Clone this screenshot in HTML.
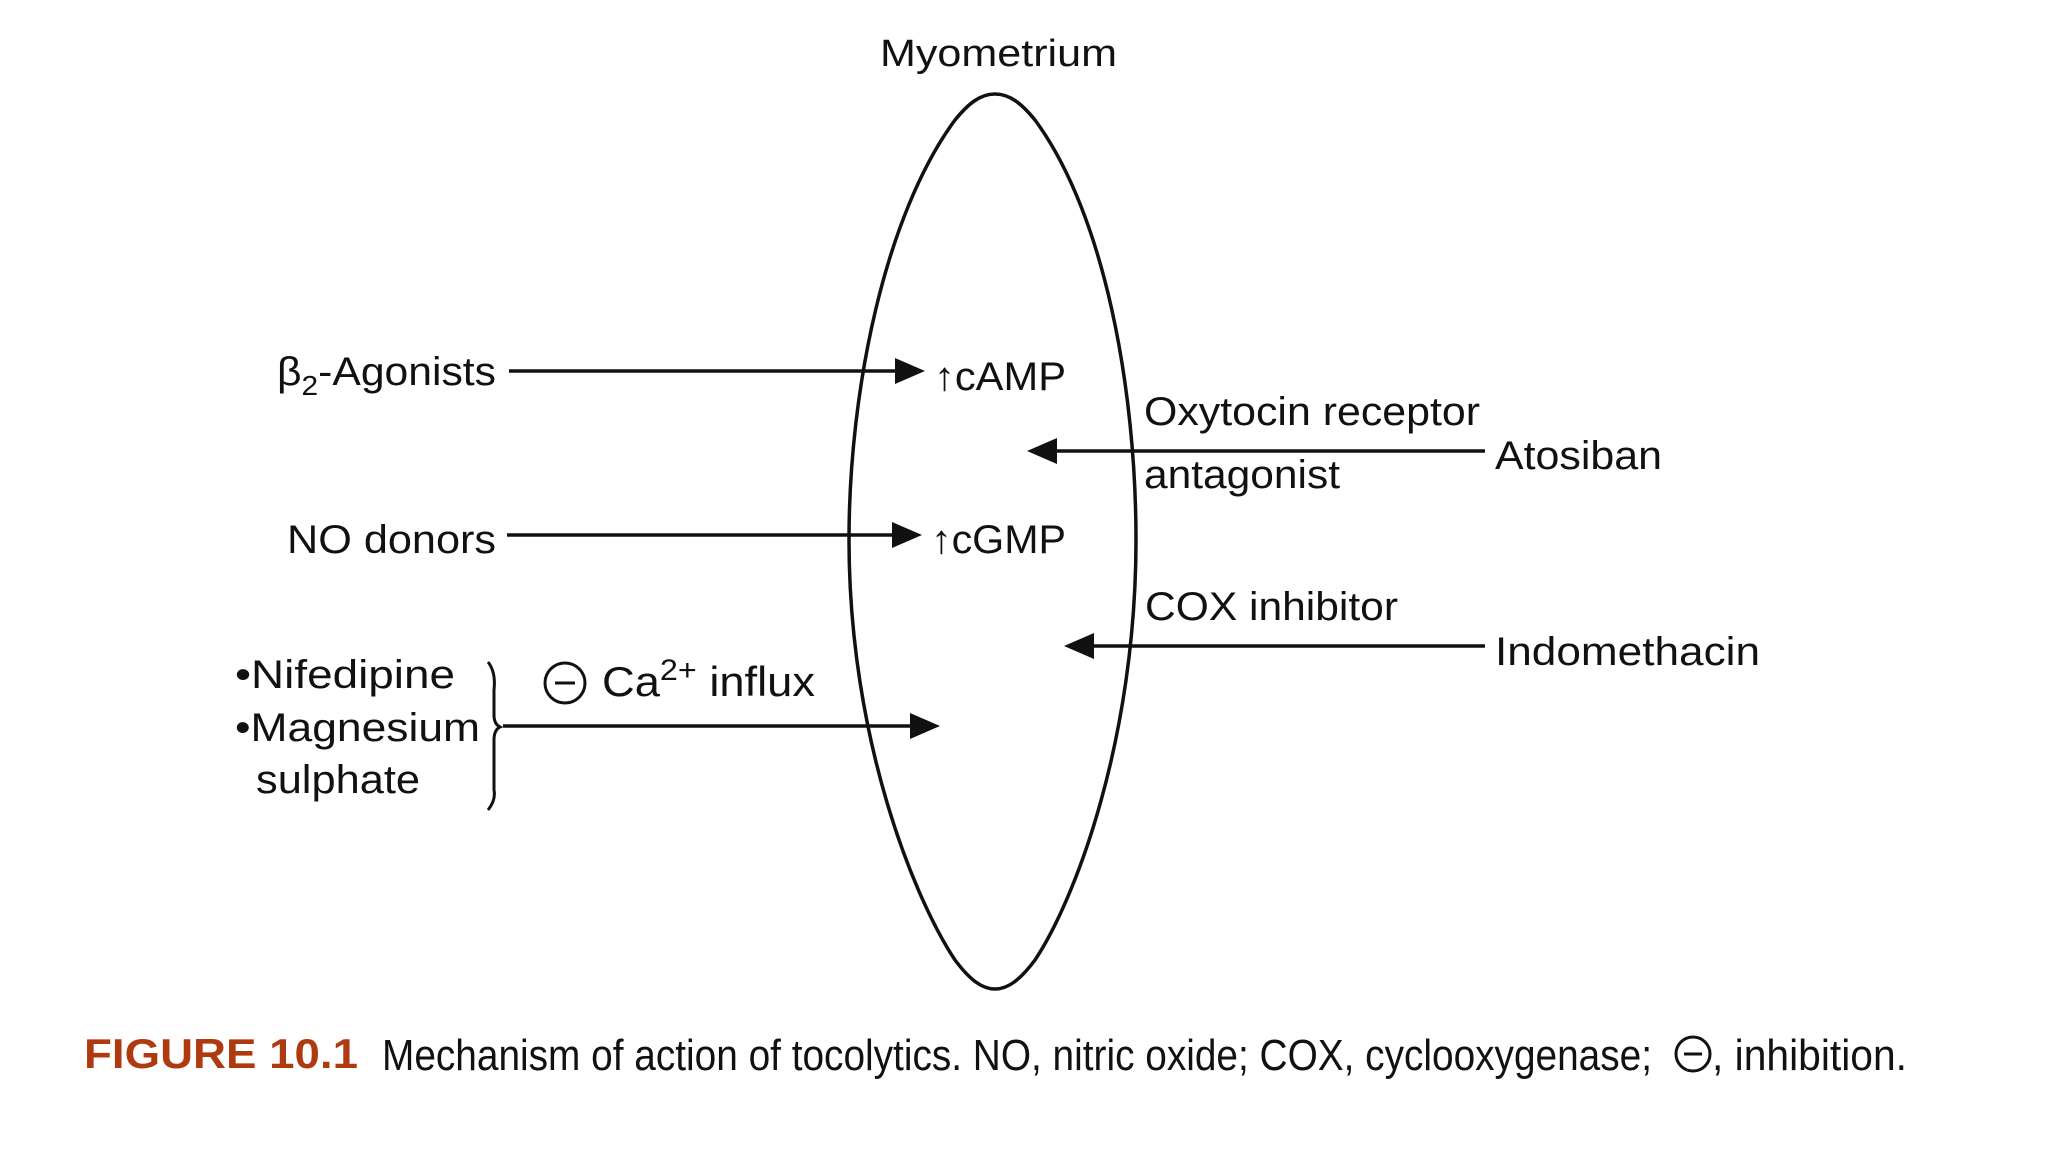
<!DOCTYPE html>
<html><head><meta charset="utf-8"><style>
html,body{margin:0;padding:0;background:#fff;}
svg{display:block;}
text{font-family:"Liberation Sans","DejaVu Sans",sans-serif;fill:#111;}
</style></head><body>
<svg width="2048" height="1152" viewBox="0 0 2048 1152" xmlns="http://www.w3.org/2000/svg">
<text x="880" y="66" font-size="38" textLength="237" lengthAdjust="spacingAndGlyphs">Myometrium</text>
<path d="M995,94 C980,94 968,104 955,120 C885,215 849,390 849,540 C849,740 915,900 955,960 C970,980 982,989 995,989 C1008,989 1020,980 1035,960 C1075,900 1136,740 1136,540 C1136,390 1105,215 1035,120 C1022,104 1010,94 995,94 Z" fill="none" stroke="#111" stroke-width="3.5"/>

<line x1="509" y1="371" x2="900" y2="371" stroke="#111" stroke-width="3.5"/>
<polygon points="925,371 895,358 895,384" fill="#111"/>
<line x1="507" y1="535" x2="897" y2="535" stroke="#111" stroke-width="3.5"/>
<polygon points="922,535 892,522 892,548" fill="#111"/>
<line x1="503" y1="726" x2="915" y2="726" stroke="#111" stroke-width="3.5"/>
<polygon points="940,726 910,713 910,739" fill="#111"/>
<line x1="1485" y1="451" x2="1052" y2="451" stroke="#111" stroke-width="3.5"/>
<polygon points="1027,451 1057,438 1057,464" fill="#111"/>
<line x1="1485" y1="646" x2="1089" y2="646" stroke="#111" stroke-width="3.5"/>
<polygon points="1064,646 1094,633 1094,659" fill="#111"/>

<text x="277" y="385" font-size="40" textLength="219" lengthAdjust="spacingAndGlyphs">β<tspan font-size="28" dy="10">2</tspan><tspan dy="-10">-Agonists</tspan></text>
<text x="934" y="390" font-size="40" textLength="132" lengthAdjust="spacingAndGlyphs">↑cAMP</text>
<text x="1144" y="425" font-size="40" textLength="336" lengthAdjust="spacingAndGlyphs">Oxytocin receptor</text>
<text x="1144" y="488" font-size="40" textLength="196" lengthAdjust="spacingAndGlyphs">antagonist</text>
<text x="1495" y="469" font-size="40" textLength="167" lengthAdjust="spacingAndGlyphs">Atosiban</text>
<text x="287" y="553" font-size="40" textLength="209" lengthAdjust="spacingAndGlyphs">NO donors</text>
<text x="931" y="553" font-size="40" textLength="135" lengthAdjust="spacingAndGlyphs">↑cGMP</text>
<text x="1145" y="620" font-size="40" textLength="253" lengthAdjust="spacingAndGlyphs">COX inhibitor</text>
<text x="1495" y="665" font-size="40" textLength="265" lengthAdjust="spacingAndGlyphs">Indomethacin</text>
<text x="235" y="688" font-size="40" textLength="220" lengthAdjust="spacingAndGlyphs">•Nifedipine</text>
<text x="235" y="741" font-size="40" textLength="245" lengthAdjust="spacingAndGlyphs">•Magnesium</text>
<text x="256" y="793" font-size="40" textLength="164" lengthAdjust="spacingAndGlyphs">sulphate</text>
<path d="M488,662 Q496,672 494,690 L494,715 Q494,724 500,727 Q494,730 494,740 L494,790 Q496,800 488,810" fill="none" stroke="#111" stroke-width="3"/>
<circle cx="565" cy="683" r="20" fill="none" stroke="#111" stroke-width="3"/>
<line x1="555" y1="683" x2="575" y2="683" stroke="#111" stroke-width="3"/>
<text x="602" y="696" font-size="42" textLength="213" lengthAdjust="spacingAndGlyphs">Ca<tspan font-size="30" dy="-16">2+</tspan><tspan dy="16"> influx</tspan></text>

<text x="84" y="1068" font-size="42" font-weight="bold" style="fill:#b03a10" textLength="274" lengthAdjust="spacingAndGlyphs">FIGURE 10.1</text>
<text x="382" y="1070" font-size="44" textLength="1270" lengthAdjust="spacingAndGlyphs">Mechanism of action of tocolytics. NO, nitric oxide; COX, cyclooxygenase;</text>
<circle cx="1693" cy="1054" r="17" fill="none" stroke="#111" stroke-width="3"/>
<line x1="1684" y1="1054" x2="1702" y2="1054" stroke="#111" stroke-width="3"/>
<text x="1712" y="1070" font-size="44" textLength="195" lengthAdjust="spacingAndGlyphs">, inhibition.</text>
</svg>
</body></html>
